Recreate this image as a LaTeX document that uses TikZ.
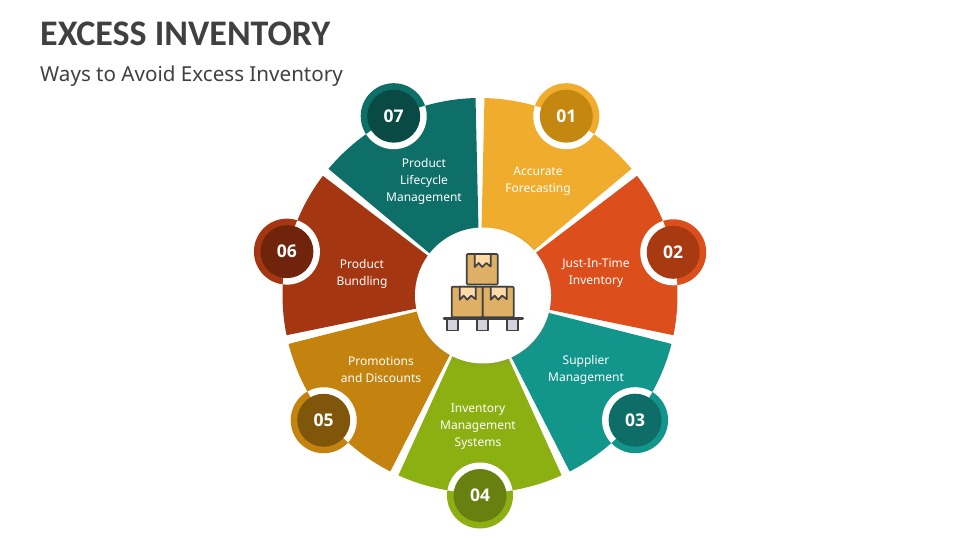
\documentclass[tikz,border=0pt]{standalone}
\usepackage{fontspec}
\setmainfont{Noto Sans}
\newfontfamily\headfont{Carlito}
\newfontfamily\numfont{Open Sans}
\usetikzlibrary{positioning,shadows}
\definecolor{amber}{HTML}{F0AC2C}
\definecolor{amberdk}{HTML}{C48710}
\definecolor{rust}{HTML}{DC4E1B}
\definecolor{rustdk}{HTML}{A83A11}
\definecolor{teal}{HTML}{12958B}
\definecolor{tealdk}{HTML}{0E6D66}
\definecolor{olive}{HTML}{8CAF12}
\definecolor{olivedk}{HTML}{678010}
\definecolor{ochre}{HTML}{C3830E}
\definecolor{ochredk}{HTML}{80570A}
\definecolor{brick}{HTML}{A43612}
\definecolor{brickdk}{HTML}{70240B}
\definecolor{pine}{HTML}{0E6F68}
\definecolor{pinedk}{HTML}{0A4A45}
\definecolor{cardboard}{HTML}{DDB066}
\definecolor{flap}{HTML}{FFD9A8}
\definecolor{steel}{HTML}{D4D4E0}
\definecolor{ink}{HTML}{404040}

\begin{document}
\begin{tikzpicture}[
  x=1pt, y=1pt,
  outerring/.style={circle, inner sep=0pt, minimum size=66pt},
  whitering/.style={circle, inner sep=0pt, minimum size=66pt, fill=white},
  badge/.style={circle, inner sep=0pt, minimum size=53pt, text=white, font=\numfont\fontsize{17.5}{20}\selectfont\bfseries},
  caption/.style={align=center, text=white, font=\fontsize{12}{17}\selectfont},
  iconline/.style={draw=ink, line width=1.7pt, line join=round},
  crate/.pic={
    \filldraw[iconline, fill=cardboard, rounded corners=1pt] (0,0) rectangle (31,30.5);
    \filldraw[iconline, fill=flap] (8,30.5) -- (8,17.5) -- (12,21.5) -- (15.5,17.5) -- (19.5,21.5) -- (24,18) -- (24,30.5) -- cycle;
  }
]
\useasboundingbox (0,0) rectangle (960,540);
\node[anchor=west, inner sep=0pt, text=ink, font=\headfont\fontsize{36}{42}\selectfont\bfseries] (title) at (40,506) {EXCESS INVENTORY};
\node[anchor=west, inner sep=0pt, text=ink, font=\fontsize{20.6}{24}\selectfont] (subtitle) at (40,464) {Ways to Avoid Excess Inventory};

\begin{scope}[shift={(480,244.5)}]
\node[outerring, fill=amber] (ring1) at (64.3:199) {};
\node[outerring, fill=rust] (ring2) at (12.6:198) {};
\node[outerring, fill=teal] (ring3) at (-38.8:199) {};
\node[outerring, fill=olive] (ring4) at (-90:200) {};
\node[outerring, fill=ochre] (ring5) at (-141.4:200) {};
\node[outerring, fill=brick] (ring6) at (167.2:198) {};
\node[outerring, fill=pine] (ring7) at (115.7:199) {};

\fill[amber] (0,0) -- (88.7:197.5) arc[start angle=88.7, end angle=39.9, radius=197.5] -- cycle;
\fill[rust] (0,0) -- (37.3:197.5) arc[start angle=37.3, end angle=-11.6, radius=197.5] -- cycle;
\fill[teal] (0,0) -- (-14.2:197.5) arc[start angle=-14.2, end angle=-63, radius=197.5] -- cycle;
\fill[olive] (0,0) -- (-65.6:197.5) arc[start angle=-65.6, end angle=-114.4, radius=197.5] -- cycle;
\fill[ochre] (0,0) -- (-117:197.5) arc[start angle=-117, end angle=-165.8, radius=197.5] -- cycle;
\fill[brick] (0,0) -- (-168.4:197.5) arc[start angle=-168.4, end angle=-217.3, radius=197.5] -- cycle;
\fill[pine] (0,0) -- (140.1:197.5) arc[start angle=140.1, end angle=91.3, radius=197.5] -- cycle;

\begin{scope}
\clip (0,0) circle (197.5);
\node[whitering] (white1) at (ring1) {};
\node[whitering] (white2) at (ring2) {};
\node[whitering] (white3) at (ring3) {};
\node[whitering] (white4) at (ring4) {};
\node[whitering] (white5) at (ring5) {};
\node[whitering] (white6) at (ring6) {};
\node[whitering] (white7) at (ring7) {};
\end{scope}

\node[badge, fill=amberdk] (num1) at (ring1) {01};
\node[badge, fill=rustdk] (num2) at (ring2) {02};
\node[badge, fill=tealdk] (num3) at (ring3) {03};
\node[badge, fill=olivedk] (num4) at (ring4) {04};
\node[badge, fill=ochredk] (num5) at (ring5) {05};
\node[badge, fill=brickdk] (num6) at (ring6) {06};
\node[badge, fill=pinedk] (num7) at (ring7) {07};

\node[caption] (label1) at (58,114) {Accurate\\Forecasting};
\node[caption] (label2) at (116,22) {Just-In-Time\\Inventory};
\node[caption] (label3) at (106,-74) {Supplier\\Management};
\node[caption] (label4) at (-2,-131) {Inventory\\Management\\Systems};
\node[caption] (label5) at (-99,-74) {Promotions\\and Discounts};
\node[caption] (label6) at (-118,22) {Product\\Bundling};
\node[caption] (label7) at (-56,114) {Product\\Lifecycle\\Management};

\node[circle, fill=white, inner sep=0pt, minimum size=136pt,
  circular drop shadow={shadow xshift=1pt, shadow yshift=-1pt, shadow scale=1.04, opacity=.35}] (hub) at (3,0) {};

\pic at (-13.3,11) {crate};
\pic at (-28.3,-21.7) {crate};
\pic at (2.7,-21.7) {crate};
\filldraw[iconline, fill=steel] (-33.3,-35) rectangle (-21.7,-24);
\filldraw[iconline, fill=steel] (-3.3,-35) rectangle (8.3,-24);
\filldraw[iconline, fill=steel] (26.7,-35) rectangle (38.3,-24);
\draw[ink, line width=3pt, line cap=round] (-36,-23.5) -- (42.5,-23.5);
\end{scope}
\end{tikzpicture}
\end{document}
